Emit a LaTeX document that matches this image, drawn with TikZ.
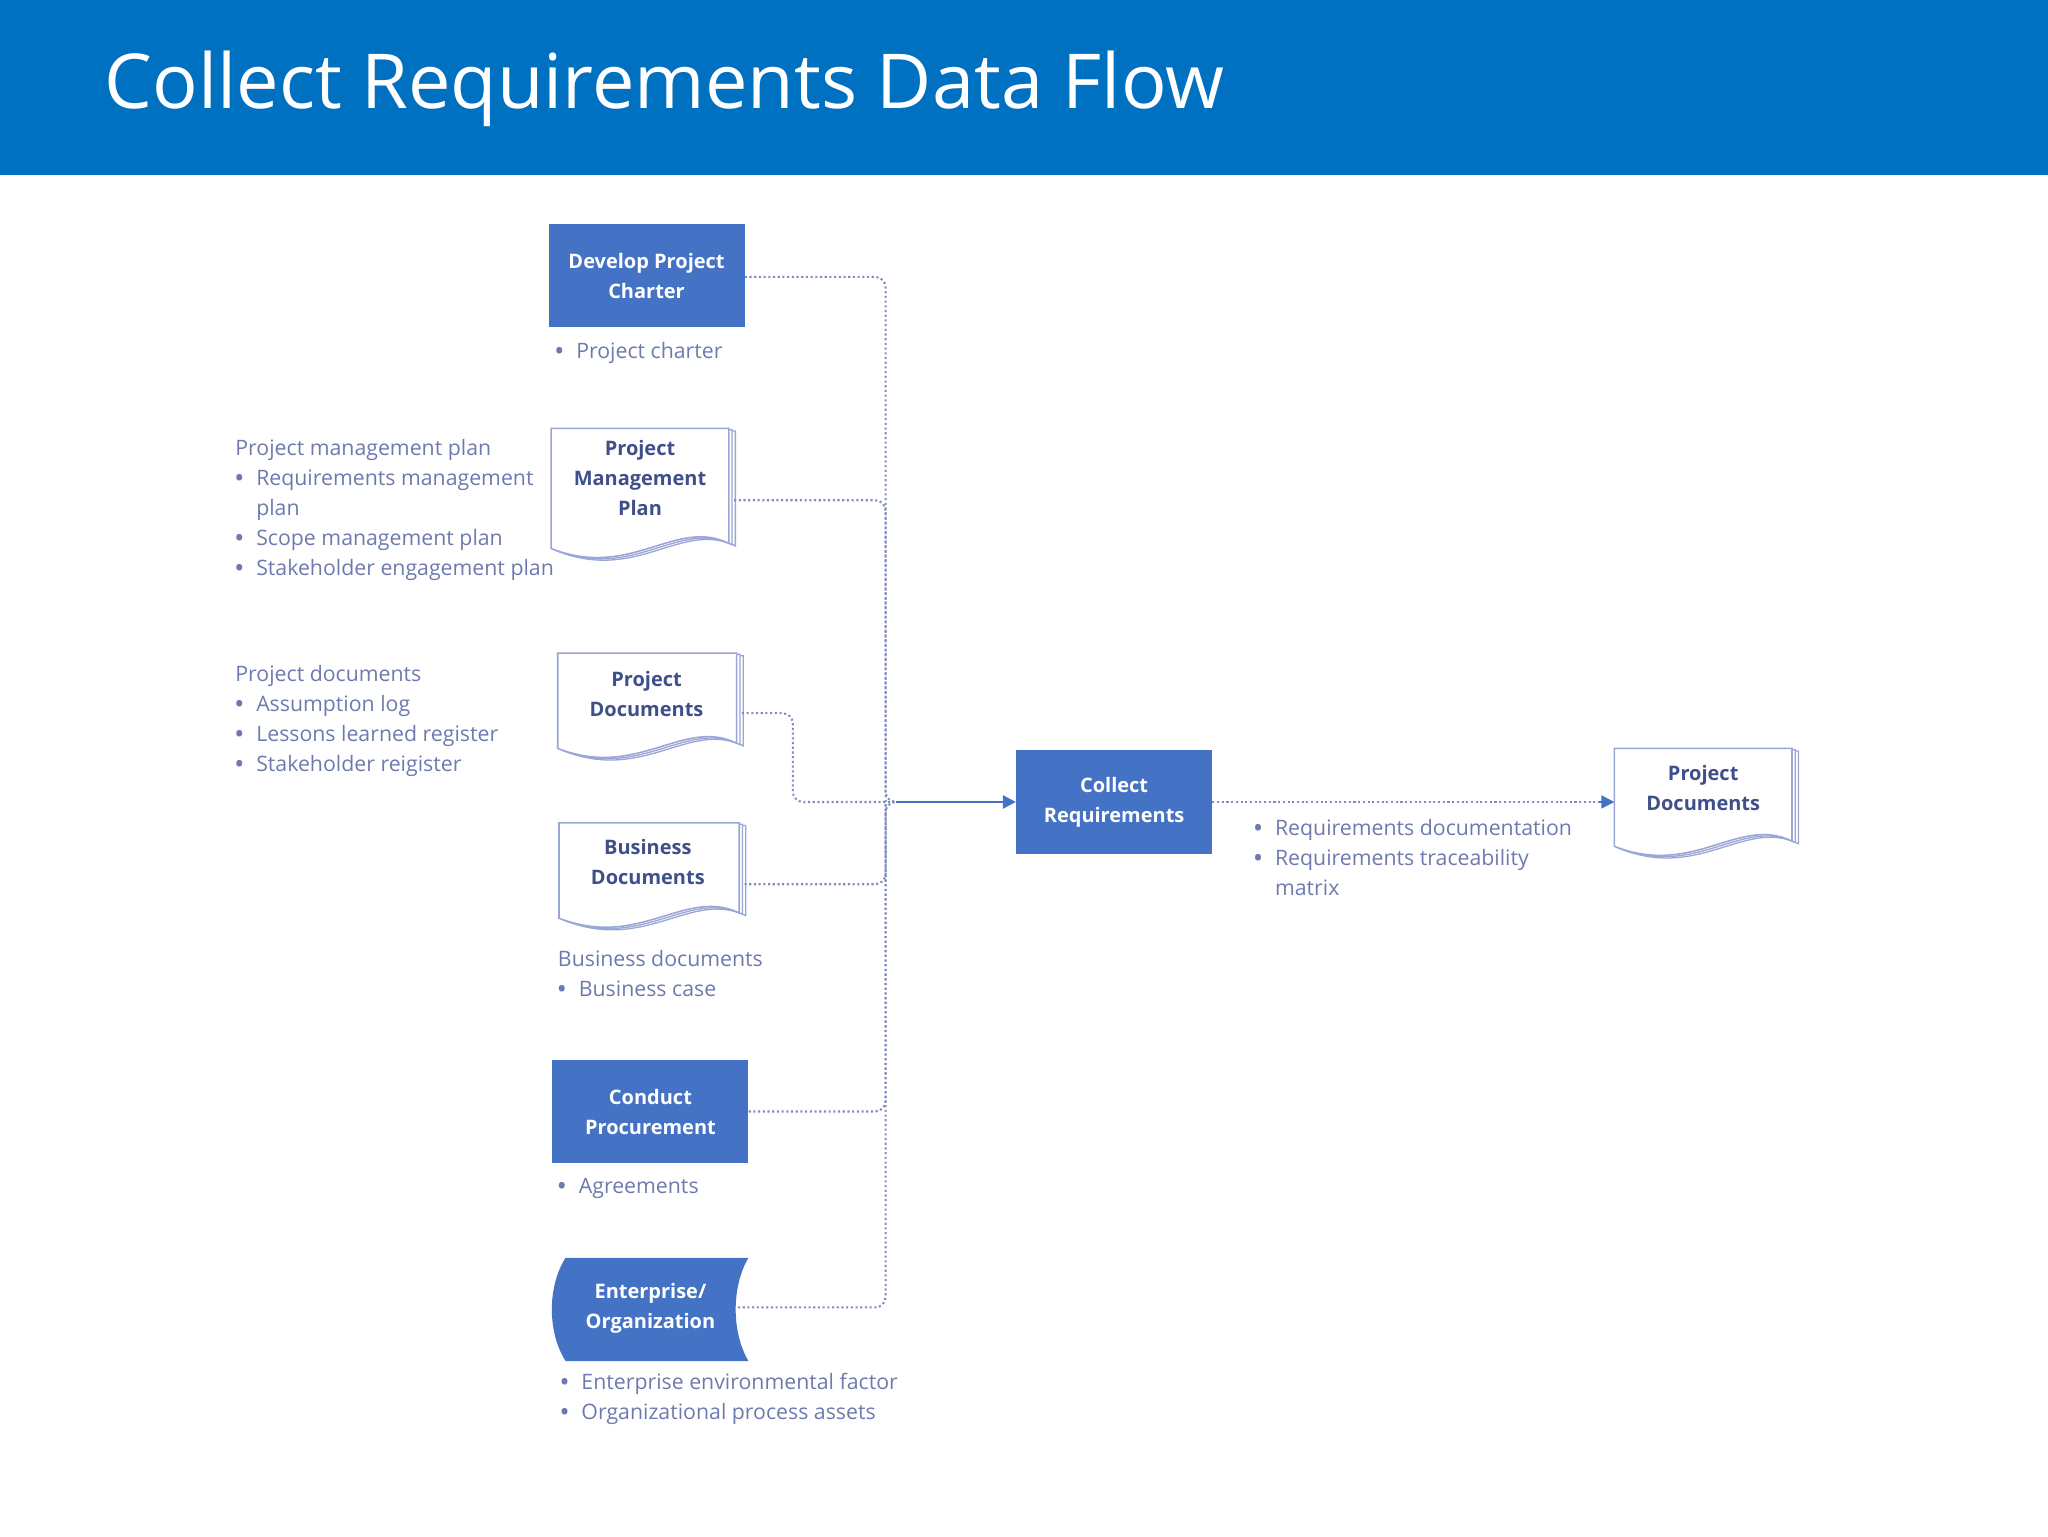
\documentclass[tikz,border=0pt]{standalone}
\usepackage{fontspec}
\setmainfont{Open Sans}
\usetikzlibrary{calc,arrows.meta}
\definecolor{bar}{HTML}{0070C0}
\definecolor{boxblue}{HTML}{4472C4}
\definecolor{txt}{HTML}{6E7AAE}
\definecolor{doctxt}{HTML}{3F4F8A}
\definecolor{ln}{HTML}{7F8CC0}
\definecolor{docedge}{HTML}{9AA6D6}
\newcommand\bl{\makebox[16pt][l]{\textbf{•}}}
\newcommand\docoutline[4]{(#1,#2) -- (#3,#2) -- (#3,#4-4) .. controls ({#3-0.3*(#3-#1)},{#4-24}) and ({#1+0.45*(#3-#1)},{#4+24}) .. (#1,#4) -- cycle}
\newcommand\docshape[4]{%
  \path[draw=docedge,fill=white,line width=1pt,shift={(5,2)}] \docoutline{#1}{#2}{#3}{#4};
  \path[draw=docedge,fill=white,line width=1pt,shift={(2.5,1)}] \docoutline{#1}{#2}{#3}{#4};
  \path[draw=docedge,fill=white,line width=1.2pt] \docoutline{#1}{#2}{#3}{#4};}
\begin{document}
\begin{tikzpicture}[x=1pt,y=-1pt,
  bluebox/.style={fill=boxblue,text=white,font=\bfseries\fontsize{15.3}{23}\selectfont,align=center,minimum width=150pt,minimum height=79pt,inner sep=0pt},
  doclabel/.style={text=doctxt,font=\bfseries\fontsize{15.3}{23}\selectfont,align=center,inner sep=0pt,minimum width=120pt,minimum height=50pt},
  note/.style={text=txt,font=\fontsize{16.3}{23}\selectfont,align=left,anchor=north west,inner sep=0pt},
  bus/.style={draw=ln,line width=1.6pt,dotted,rounded corners=8pt},
  flow/.style={draw=boxblue,line width=1.8pt,-{Triangle[length=10pt,width=10pt]}}]
\useasboundingbox (0,0) rectangle (1568,1176);
\fill[bar] (0,0) rectangle (1568,134);
\node[anchor=base west,text=white,font=\fontsize{58}{70}\selectfont,inner sep=0pt] (title) at (80,83) {Collect Requirements Data Flow};
% boxes
\node[bluebox] (dpc) at (495,211) {Develop Project\\Charter};
\node[bluebox] (cp) at (498,851) {Conduct\\Procurement};
\node[bluebox] (cr) at (853,614) {Collect\\Requirements};
\fill[boxblue] (433,963) -- (573,963) .. controls (560,985) and (560,1020) .. (573,1042) -- (433,1042) .. controls (419,1020) and (419,985) .. (433,963) -- cycle;
\node[bluebox,fill=none,minimum width=140pt] (eo) at (498,1002) {Enterprise/\\Organization};
% documents
\docshape{422}{328}{558}{420}
\node[doclabel] (pmp) at (490,366) {Project\\Management\\Plan};
\docshape{427}{500}{564}{573}
\node[doclabel] (pd) at (495,531) {Project\\Documents};
\docshape{428}{630}{566}{703}
\node[doclabel] (bd) at (496,660) {Business\\Documents};
\docshape{1236}{573}{1372}{648}
\node[doclabel] (out) at (1304,603) {Project\\Documents};
% notes
\node[note] (n1) at (425,262) {\bl Project charter};
\node[note] (n2) at (180,336) {Project management plan\\\bl Requirements management\\\hspace*{16pt}plan\\\bl Scope management plan\\\bl Stakeholder engagement plan};
\node[note] (n3) at (180,509) {Project documents\\\bl Assumption log\\\bl Lessons learned register\\\bl Stakeholder reigister};
\node[note] (n4) at (427,727) {Business documents\\\bl Business case};
\node[note] (n5) at (427,902) {\bl Agreements};
\node[note] (n6) at (429,1051) {\bl Enterprise environmental factor\\\bl Organizational process assets};
\node[note] (n7) at (960,627) {\bl Requirements documentation\\\bl Requirements traceability\\\hspace*{16pt}matrix};
% connectors
\coordinate (m) at (686,614);
\draw[bus] (dpc.east |- 0,212) -- (678,212) -- (678,614) -- (m);
\draw[bus] (562,383) -- (678,383) -- (678,614);
\draw[bus] (568,546) -- (607,546) -- (607,614) -- (m);
\draw[bus] (570,677) -- (678,677) -- (678,614) -- (m);
\draw[bus] (cp.east) -- (678,851) -- (678,614);
\draw[bus] (565,1001) -- (678,1001) -- (678,614);
\draw[flow] (m) -- (cr.west);
\draw[draw=ln,line width=1.6pt,dotted] (cr.east) -- (1226,614);
\draw[-{Triangle[length=10pt,width=10pt]},boxblue,line width=1.2pt] (1224,614) -- (1236,614);
\end{tikzpicture}
\end{document}
